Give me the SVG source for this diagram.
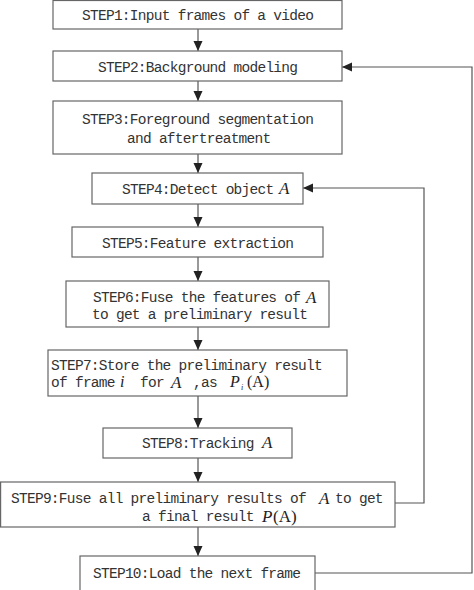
<svg xmlns="http://www.w3.org/2000/svg" width="474" height="590" viewBox="0 0 474 590">
<defs>
<marker id="ah" markerUnits="userSpaceOnUse" markerWidth="10" markerHeight="10" viewBox="0 0 10 10" refX="10" refY="5" orient="auto">
<path d="M0,0.5 L10,5 L0,9.5 Z" fill="#222"/>
</marker>
<style>
.box{fill:#fff;stroke:#666;stroke-width:1.2}
.t{font-family:"Liberation Mono",monospace;font-size:14.5px;letter-spacing:-0.73px;fill:#333}
.m{font-family:"Liberation Serif",serif;font-style:italic;letter-spacing:0;fill:#222}
.r{font-family:"Liberation Serif",serif;font-style:normal;letter-spacing:0;fill:#222}
.c{fill:none;stroke:#555;stroke-width:1.2}
</style>
</defs>
<rect width="474" height="590" fill="#fff"/>
<g id="connectors">
<line class="c" x1="198" y1="29" x2="198" y2="51" marker-end="url(#ah)"/>
<line class="c" x1="198" y1="81" x2="198" y2="101" marker-end="url(#ah)"/>
<line class="c" x1="198" y1="154" x2="198" y2="173" marker-end="url(#ah)"/>
<line class="c" x1="198" y1="204" x2="198" y2="227" marker-end="url(#ah)"/>
<line class="c" x1="198" y1="257" x2="198" y2="281" marker-end="url(#ah)"/>
<line class="c" x1="198" y1="327" x2="198" y2="350" marker-end="url(#ah)"/>
<line class="c" x1="198" y1="396" x2="198" y2="428" marker-end="url(#ah)"/>
<line class="c" x1="198" y1="458" x2="198" y2="482" marker-end="url(#ah)"/>
<line class="c" x1="198" y1="527" x2="198" y2="556" marker-end="url(#ah)"/>
<polyline class="c" points="395,503 424,503 424,188 303,188" marker-end="url(#ah)"/>
<polyline class="c" points="315,573 472,573 472,67 342,67" marker-end="url(#ah)"/>
</g>
<g id="step1"><rect class="box" x="53" y="0.5" width="289" height="28.5"/><text class="t" x="82" y="20">STEP1:Input frames of a video</text></g>
<g id="step2"><rect class="box" x="53" y="51" width="289" height="30"/><text class="t" x="98" y="71.5">STEP2:Background modeling</text></g>
<g id="step3"><rect class="box" x="53" y="101" width="289" height="53"/><text class="t" x="82" y="123.5">STEP3:Foreground segmentation</text><text class="t" x="127" y="142.5">and aftertreatment</text></g>
<g id="step4"><rect class="box" x="92" y="173" width="211" height="31"/><text class="t" x="122" y="193.5">STEP4:Detect object</text><text class="m" x="279" y="194" font-size="17">A</text></g>
<g id="step5"><rect class="box" x="72" y="227" width="251" height="30"/><text class="t" x="102" y="247.5">STEP5:Feature extraction</text></g>
<g id="step6"><rect class="box" x="66" y="281" width="263" height="46"/><text class="t" x="93" y="302">STEP6:Fuse the features of</text><text class="m" x="306" y="302.5" font-size="17">A</text><text class="t" x="92" y="319">to get a preliminary result</text></g>
<g id="step7"><rect class="box" x="48" y="350" width="299" height="46"/><text class="t" x="51" y="370">STEP7:Store the preliminary result</text>
<text class="t" x="51" y="387">of frame</text><text class="m" x="120" y="387" font-size="16">i</text><text class="t" x="140" y="387">for</text><text class="m" x="171" y="388" font-size="17">A</text><text class="t" x="193" y="387">,as</text><text class="m" x="230" y="387" font-size="16">P</text><text class="m" x="241" y="390" font-size="8">i</text><text class="r" x="247" y="387" font-size="16">(A)</text></g>
<g id="step8"><rect class="box" x="103" y="428" width="189" height="30"/><text class="t" x="142" y="447.5">STEP8:Tracking</text><text class="m" x="262" y="448" font-size="17">A</text></g>
<g id="step9"><rect class="box" x="0.6" y="482" width="394.4" height="45"/><text class="t" x="11" y="503">STEP9:Fuse all preliminary results of</text><text class="m" x="319" y="504" font-size="17">A</text><text class="t" x="335" y="503">to get</text><text class="t" x="142" y="521">a final result</text><text class="m" x="262" y="521.5" font-size="17">P</text><text class="r" x="273" y="521.5" font-size="17">(A)</text></g>
<g id="step10"><rect class="box" x="80" y="556" width="235" height="40"/><text class="t" x="93" y="578">STEP10:Load the next frame</text></g>
</svg>
